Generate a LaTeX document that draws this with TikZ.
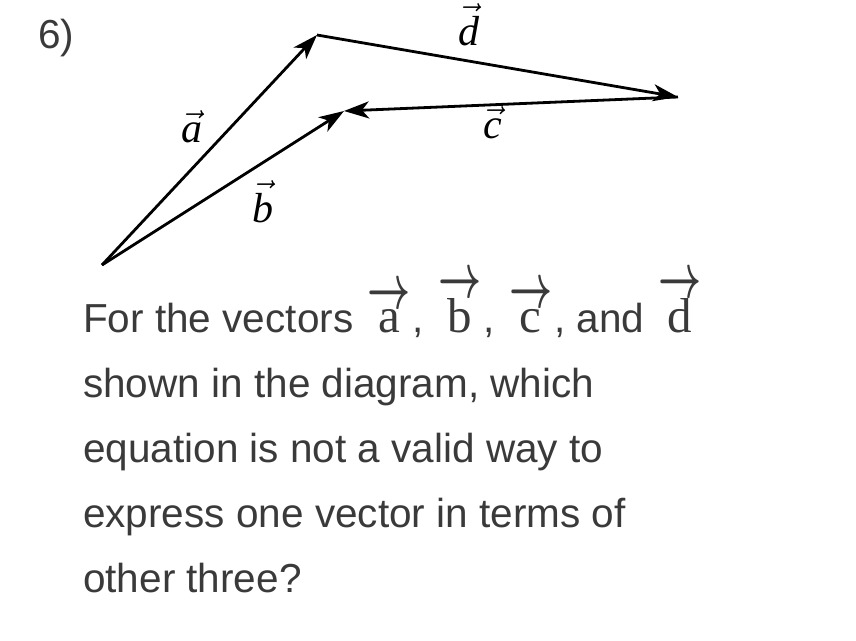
\RequirePackage{fix-cm}
\documentclass[tikz,border=0pt]{standalone}
\usepackage{fontspec}
\usepackage{amsmath}
\usepackage{graphicx}
\setmainfont{Liberation Sans}
\newfontfamily\vecfont{Liberation Serif}
\usetikzlibrary{arrows.meta}
\definecolor{textgray}{HTML}{3A3A3A}
\tikzset{
  vecline/.style={line width=2.8pt,-{Stealth[length=25pt,width=17pt,inset=7pt]}},
  veclabel/.style={anchor=base,inner sep=0pt,font=\fontsize{42}{42}\selectfont},
  qline/.style={anchor=base west,inner sep=0pt,text=textgray,font=\fontsize{40.5}{48}\selectfont}
}
% letra con flecha larga encima
\newcommand{\vvarrow}{\scalebox{0.78}[1.3]{\fontsize{48}{48}\selectfont\boldmath$\rightarrow$}}
\newcommand{\vv}[1]{\kern6pt\relax\leavevmode\vbox{\offinterlineskip\hbox to 37pt{\hss\vvarrow\hss}\kern1pt\relax
  \hbox to 37pt{\hss{\vecfont\fontsize{49}{49}\selectfont #1}\hss}}\kern-6pt\relax}
\newcommand{\lab}[1]{$\vec{\text{\vecfont\itshape #1}}$}
\begin{document}
\begin{tikzpicture}[x=1pt,y=-1pt] %Vectores a, b, c, d y la pregunta
            \useasboundingbox (0,0) rectangle (856,640);
            \coordinate (O) at (102,265);
            \coordinate (P) at (317,35);
            \coordinate (Q) at (678,97);
            \coordinate (R) at (344,111);

            \draw[vecline] (O) -- (P);
            \draw[vecline] (O) -- (R);
            \draw[vecline] (P) -- (Q);
            \draw[vecline] (Q) -- (R);

            \node[veclabel] (la) at (192,142) {\lab{a}};
            \node[veclabel] (lb) at (263,222) {\lab{b}};
            \node[veclabel] (lc) at (493,138) {\lab{c}};
            \node[veclabel] (ld) at (469,45) {\lab{d}};

            \node[qline] (num) at (38,48) {6)};
            \node[qline] (line1) at (83,332) {For the vectors \vv{a} , \vv{b} , \vv{c} , and \vv{d}};
            \node[qline] (line2) at (83,397) {shown in the diagram, which};
            \node[qline] (line3) at (83,462) {equation is not a valid way to};
            \node[qline] (line4) at (83,527) {express one vector in terms of};
            \node[qline] (line5) at (83,592) {other three?};
        \end{tikzpicture}
\end{document}
